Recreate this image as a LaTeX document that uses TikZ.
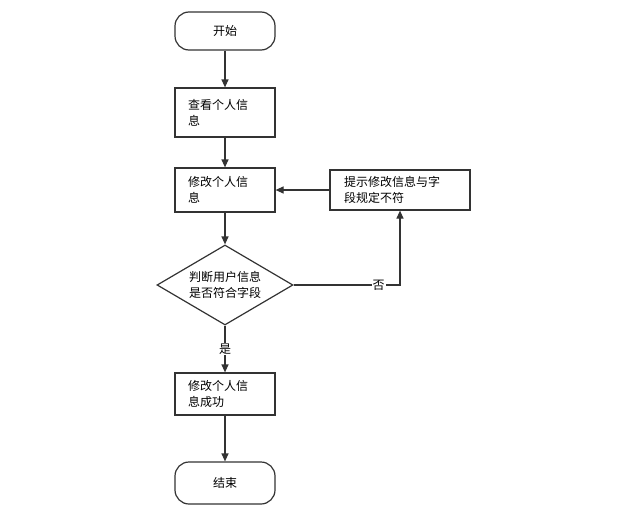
\documentclass[tikz,border=0pt]{standalone}
\usepackage{fontspec}
\newfontfamily\cjk{Noto Sans CJK SC}
\usetikzlibrary{shapes.geometric,arrows.meta}
\begin{document}
\begin{tikzpicture}[x=1pt,y=-1pt,font=\cjk\fontsize{12}{16}\selectfont,
  box/.style={draw=black!80,line width=1.2pt,minimum width=100pt,text width=74pt,align=left,inner sep=0pt},
  term/.style={draw=black!80,line width=1.2pt,rounded corners=14pt,minimum width=100pt,minimum height=38pt},
  arr/.style={-{Triangle[length=8pt,width=7pt]},line width=1.2pt,draw=black!80},
  lbl/.style={fill=white,inner sep=1pt}]
\useasboundingbox (0,0) rectangle (637,522);
\node[term] (s) at (225,31) {开始};
\node[box,minimum height=49pt] (b1) at (225,112.5) {查看个人信\\息};
\node[box,minimum height=44pt] (b2) at (225,190) {修改个人信\\息};
\node[draw=black!80,line width=1.2pt,diamond,aspect=1.7,minimum width=136pt,minimum height=80pt,inner sep=0pt,align=center] (d) at (225,285) {判断用户信息\\是否符合字段};
\node[box,minimum width=140pt,text width=112pt,minimum height=40pt] (r) at (400,190) {提示修改信息与字\\段规定不符};
\node[box,minimum height=42pt] (b3) at (225,394) {修改个人信\\息成功};
\node[term,minimum height=42pt] (e) at (225,483) {结束};
\draw[arr] (s) -- (b1);
\draw[arr] (b1) -- (b2);
\draw[arr] (b2) -- (d);
\draw[arr] (d) -- node[lbl,pos=0.5]{是} (b3);
\draw[arr] (b3) -- (e);
\draw[arr] (d.east) -- (400,285) node[lbl,pos=0.8]{否} -- (r.south);
\draw[arr] (r.west) -- (b2.east);
\end{tikzpicture}
\end{document}
